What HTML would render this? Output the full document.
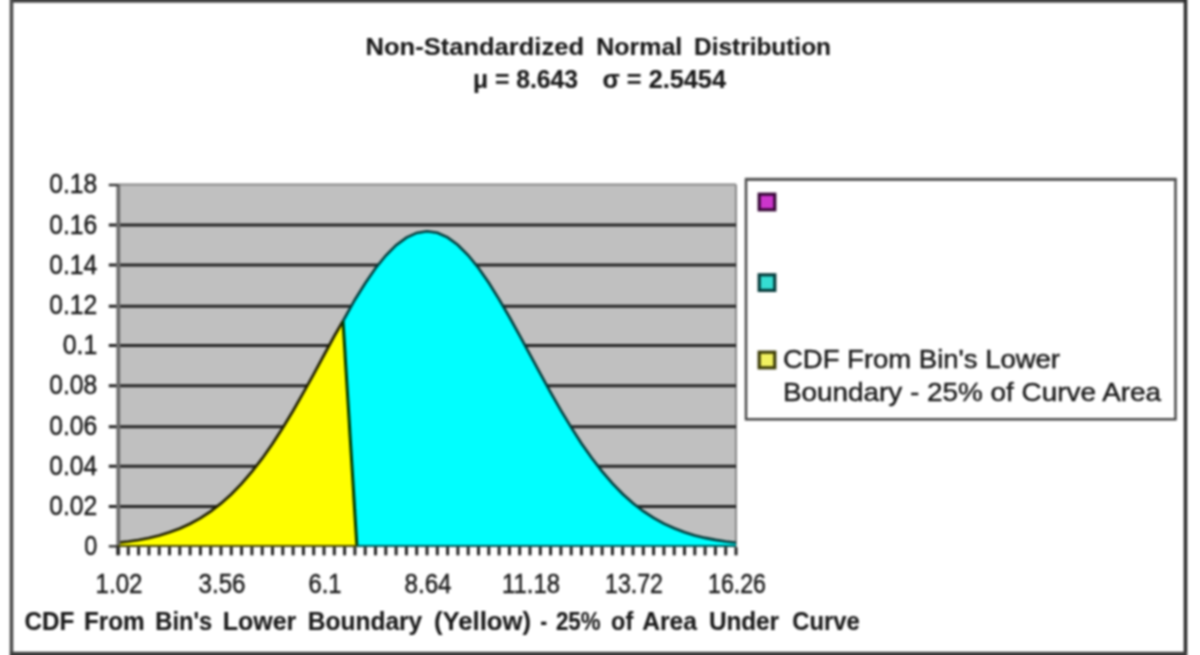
<!DOCTYPE html>
<html><head><meta charset="utf-8"><title>Non-Standardized Normal Distribution</title>
<style>
html,body{margin:0;padding:0;background:#fff;}
body{width:1200px;height:655px;overflow:hidden;}
svg{display:block;}
text{font-family:"Liberation Sans",sans-serif;fill:#1a1a1a;stroke:#1a1a1a;stroke-width:0.45px;filter:blur(0.8px);}
.r{font-size:26.5px;}
.b{font-size:24.5px;font-weight:bold;stroke-width:0.15px;}
</style></head><body>
<svg width="1200" height="655" viewBox="0 0 1200 655">
<rect x="0" y="0" width="1200" height="655" fill="#fff"/>
<g>
<!-- outer frame -->
<g style="filter:blur(0.8px)">
<rect x="10" y="-6" width="1177" height="8.6" fill="#3c3c3c"/>
<rect x="9.7" y="-6" width="3.6" height="670" fill="#4c4c4c"/>
<rect x="1183.7" y="-6" width="3.6" height="670" fill="#2c2c2c"/>
<rect x="10" y="651.8" width="1177" height="10" fill="#3c3c3c"/>
</g>
<!-- title -->
<text y="54.5" class="b"><tspan x="365.5" textLength="218.5" lengthAdjust="spacingAndGlyphs">Non-Standardized</tspan> <tspan x="596.3" textLength="86" lengthAdjust="spacingAndGlyphs">Normal</tspan> <tspan x="694" textLength="137" lengthAdjust="spacingAndGlyphs">Distribution</tspan></text>
<text y="88" class="b" style="font-size:26px"><tspan x="473" textLength="105" lengthAdjust="spacingAndGlyphs">μ = 8.643</tspan> <tspan x="602.5" textLength="123.5" lengthAdjust="spacingAndGlyphs">σ = 2.5454</tspan></text>
<g style="filter:blur(0.8px)">
<!-- plot area -->
<rect x="118.0" y="184.5" width="618.0" height="361.79999999999995" fill="#c0c0c0"/>
<rect x="118.0" y="183.5" width="618.0" height="2" fill="#888"/>
<rect x="735.0" y="184.5" width="2" height="361.79999999999995" fill="#888"/>
<line x1="108.8" x2="736.0" y1="225.0" y2="225.0" stroke="#262626" stroke-width="3"/>
<line x1="108.8" x2="736.0" y1="264.9" y2="264.9" stroke="#262626" stroke-width="3"/>
<line x1="108.8" x2="736.0" y1="306.3" y2="306.3" stroke="#262626" stroke-width="3"/>
<line x1="108.8" x2="736.0" y1="345.4" y2="345.4" stroke="#262626" stroke-width="3"/>
<line x1="108.8" x2="736.0" y1="385.8" y2="385.8" stroke="#262626" stroke-width="3"/>
<line x1="108.8" x2="736.0" y1="426.8" y2="426.8" stroke="#262626" stroke-width="3"/>
<line x1="108.8" x2="736.0" y1="466.2" y2="466.2" stroke="#262626" stroke-width="3"/>
<line x1="108.8" x2="736.0" y1="506.4" y2="506.4" stroke="#262626" stroke-width="3"/>

<path d="M118.0,546.3 L118.0,542.7 128.3,541.5 138.6,540.0 148.9,538.0 159.2,535.5 169.5,532.3 179.8,528.4 190.1,523.7 200.4,518.1 210.7,511.3 221.0,503.4 231.3,494.2 241.6,483.7 251.9,471.7 262.2,458.4 272.5,443.7 282.8,427.8 293.1,410.7 303.4,392.7 313.7,374.1 324.0,355.0 334.3,336.0 343.0,321.0 L356.9,546.3 Z" fill="#ffff00"/>
<path d="M356.9,546.3 L343.0,321.0 354.9,299.7 365.2,283.2 375.5,268.3 385.8,255.5 396.1,245.2 406.4,237.6 416.7,232.9 427.0,231.3 437.3,232.8 447.6,237.4 457.9,245.0 468.2,255.3 478.5,268.0 488.8,282.8 499.1,299.3 509.4,317.0 519.7,335.6 530.0,354.6 540.3,373.6 550.6,392.3 560.9,410.3 571.2,427.4 581.5,443.4 591.8,458.1 602.1,471.4 612.4,483.4 622.7,494.0 633.0,503.2 643.3,511.2 653.6,517.9 663.9,523.6 674.2,528.3 684.5,532.2 694.8,535.4 705.1,537.9 715.4,539.9 725.7,541.5 736.0,542.7 L736.0,546.3 Z" fill="#00ffff"/>
<path d="M118.0,542.7 L128.3,541.5 L138.6,540.0 L148.9,538.0 L159.2,535.5 L169.5,532.3 L179.8,528.4 L190.1,523.7 L200.4,518.1 L210.7,511.3 L221.0,503.4 L231.3,494.2 L241.6,483.7 L251.9,471.7 L262.2,458.4 L272.5,443.7 L282.8,427.8 L293.1,410.7 L303.4,392.7 L313.7,374.1 L324.0,355.0 L334.3,336.0 L343.0,321.0" fill="none" stroke="#1e1e00" stroke-width="2.7"/>
<path d="M343.0,321.0 L354.9,299.7 L365.2,283.2 L375.5,268.3 L385.8,255.5 L396.1,245.2 L406.4,237.6 L416.7,232.9 L427.0,231.3 L437.3,232.8 L447.6,237.4 L457.9,245.0 L468.2,255.3 L478.5,268.0 L488.8,282.8 L499.1,299.3 L509.4,317.0 L519.7,335.6 L530.0,354.6 L540.3,373.6 L550.6,392.3 L560.9,410.3 L571.2,427.4 L581.5,443.4 L591.8,458.1 L602.1,471.4 L612.4,483.4 L622.7,494.0 L633.0,503.2 L643.3,511.2 L653.6,517.9 L663.9,523.6 L674.2,528.3 L684.5,532.2 L694.8,535.4 L705.1,537.9 L715.4,539.9 L725.7,541.5 L736.0,542.7" fill="none" stroke="#003c3c" stroke-width="2.6"/>
<path d="M343.0,321.0 L356.9,546.3" fill="none" stroke="#003a00" stroke-width="3"/>
<!-- axes -->
<rect x="116.4" y="184.0" width="3.8" height="371.0" fill="#6e6e6e"/>
<line x1="108.8" x2="118.0" y1="185.0" y2="185.0" stroke="#333" stroke-width="2.4"/>
<line x1="108.8" x2="118.0" y1="546.3" y2="546.3" stroke="#333" stroke-width="2.4"/>
<line x1="118.0" x2="356.9" y1="546.0" y2="546.0" stroke="#4a4a00" stroke-width="2.2"/>
<line x1="356.9" x2="736.0" y1="546.0" y2="546.0" stroke="#005a5a" stroke-width="2.2"/>
<line x1="118.0" x2="118.0" y1="547.1" y2="555.3" stroke="#1c1c1c" stroke-width="2.9"/>
<line x1="128.3" x2="128.3" y1="547.1" y2="555.3" stroke="#1c1c1c" stroke-width="2.9"/>
<line x1="138.6" x2="138.6" y1="547.1" y2="555.3" stroke="#1c1c1c" stroke-width="2.9"/>
<line x1="148.9" x2="148.9" y1="547.1" y2="555.3" stroke="#1c1c1c" stroke-width="2.9"/>
<line x1="159.2" x2="159.2" y1="547.1" y2="555.3" stroke="#1c1c1c" stroke-width="2.9"/>
<line x1="169.5" x2="169.5" y1="547.1" y2="555.3" stroke="#1c1c1c" stroke-width="2.9"/>
<line x1="179.8" x2="179.8" y1="547.1" y2="555.3" stroke="#1c1c1c" stroke-width="2.9"/>
<line x1="190.1" x2="190.1" y1="547.1" y2="555.3" stroke="#1c1c1c" stroke-width="2.9"/>
<line x1="200.4" x2="200.4" y1="547.1" y2="555.3" stroke="#1c1c1c" stroke-width="2.9"/>
<line x1="210.7" x2="210.7" y1="547.1" y2="555.3" stroke="#1c1c1c" stroke-width="2.9"/>
<line x1="221.0" x2="221.0" y1="547.1" y2="555.3" stroke="#1c1c1c" stroke-width="2.9"/>
<line x1="231.3" x2="231.3" y1="547.1" y2="555.3" stroke="#1c1c1c" stroke-width="2.9"/>
<line x1="241.6" x2="241.6" y1="547.1" y2="555.3" stroke="#1c1c1c" stroke-width="2.9"/>
<line x1="251.9" x2="251.9" y1="547.1" y2="555.3" stroke="#1c1c1c" stroke-width="2.9"/>
<line x1="262.2" x2="262.2" y1="547.1" y2="555.3" stroke="#1c1c1c" stroke-width="2.9"/>
<line x1="272.5" x2="272.5" y1="547.1" y2="555.3" stroke="#1c1c1c" stroke-width="2.9"/>
<line x1="282.8" x2="282.8" y1="547.1" y2="555.3" stroke="#1c1c1c" stroke-width="2.9"/>
<line x1="293.1" x2="293.1" y1="547.1" y2="555.3" stroke="#1c1c1c" stroke-width="2.9"/>
<line x1="303.4" x2="303.4" y1="547.1" y2="555.3" stroke="#1c1c1c" stroke-width="2.9"/>
<line x1="313.7" x2="313.7" y1="547.1" y2="555.3" stroke="#1c1c1c" stroke-width="2.9"/>
<line x1="324.0" x2="324.0" y1="547.1" y2="555.3" stroke="#1c1c1c" stroke-width="2.9"/>
<line x1="334.3" x2="334.3" y1="547.1" y2="555.3" stroke="#1c1c1c" stroke-width="2.9"/>
<line x1="344.6" x2="344.6" y1="547.1" y2="555.3" stroke="#1c1c1c" stroke-width="2.9"/>
<line x1="354.9" x2="354.9" y1="547.1" y2="555.3" stroke="#1c1c1c" stroke-width="2.9"/>
<line x1="365.2" x2="365.2" y1="547.1" y2="555.3" stroke="#1c1c1c" stroke-width="2.9"/>
<line x1="375.5" x2="375.5" y1="547.1" y2="555.3" stroke="#1c1c1c" stroke-width="2.9"/>
<line x1="385.8" x2="385.8" y1="547.1" y2="555.3" stroke="#1c1c1c" stroke-width="2.9"/>
<line x1="396.1" x2="396.1" y1="547.1" y2="555.3" stroke="#1c1c1c" stroke-width="2.9"/>
<line x1="406.4" x2="406.4" y1="547.1" y2="555.3" stroke="#1c1c1c" stroke-width="2.9"/>
<line x1="416.7" x2="416.7" y1="547.1" y2="555.3" stroke="#1c1c1c" stroke-width="2.9"/>
<line x1="427.0" x2="427.0" y1="547.1" y2="555.3" stroke="#1c1c1c" stroke-width="2.9"/>
<line x1="437.3" x2="437.3" y1="547.1" y2="555.3" stroke="#1c1c1c" stroke-width="2.9"/>
<line x1="447.6" x2="447.6" y1="547.1" y2="555.3" stroke="#1c1c1c" stroke-width="2.9"/>
<line x1="457.9" x2="457.9" y1="547.1" y2="555.3" stroke="#1c1c1c" stroke-width="2.9"/>
<line x1="468.2" x2="468.2" y1="547.1" y2="555.3" stroke="#1c1c1c" stroke-width="2.9"/>
<line x1="478.5" x2="478.5" y1="547.1" y2="555.3" stroke="#1c1c1c" stroke-width="2.9"/>
<line x1="488.8" x2="488.8" y1="547.1" y2="555.3" stroke="#1c1c1c" stroke-width="2.9"/>
<line x1="499.1" x2="499.1" y1="547.1" y2="555.3" stroke="#1c1c1c" stroke-width="2.9"/>
<line x1="509.4" x2="509.4" y1="547.1" y2="555.3" stroke="#1c1c1c" stroke-width="2.9"/>
<line x1="519.7" x2="519.7" y1="547.1" y2="555.3" stroke="#1c1c1c" stroke-width="2.9"/>
<line x1="530.0" x2="530.0" y1="547.1" y2="555.3" stroke="#1c1c1c" stroke-width="2.9"/>
<line x1="540.3" x2="540.3" y1="547.1" y2="555.3" stroke="#1c1c1c" stroke-width="2.9"/>
<line x1="550.6" x2="550.6" y1="547.1" y2="555.3" stroke="#1c1c1c" stroke-width="2.9"/>
<line x1="560.9" x2="560.9" y1="547.1" y2="555.3" stroke="#1c1c1c" stroke-width="2.9"/>
<line x1="571.2" x2="571.2" y1="547.1" y2="555.3" stroke="#1c1c1c" stroke-width="2.9"/>
<line x1="581.5" x2="581.5" y1="547.1" y2="555.3" stroke="#1c1c1c" stroke-width="2.9"/>
<line x1="591.8" x2="591.8" y1="547.1" y2="555.3" stroke="#1c1c1c" stroke-width="2.9"/>
<line x1="602.1" x2="602.1" y1="547.1" y2="555.3" stroke="#1c1c1c" stroke-width="2.9"/>
<line x1="612.4" x2="612.4" y1="547.1" y2="555.3" stroke="#1c1c1c" stroke-width="2.9"/>
<line x1="622.7" x2="622.7" y1="547.1" y2="555.3" stroke="#1c1c1c" stroke-width="2.9"/>
<line x1="633.0" x2="633.0" y1="547.1" y2="555.3" stroke="#1c1c1c" stroke-width="2.9"/>
<line x1="643.3" x2="643.3" y1="547.1" y2="555.3" stroke="#1c1c1c" stroke-width="2.9"/>
<line x1="653.6" x2="653.6" y1="547.1" y2="555.3" stroke="#1c1c1c" stroke-width="2.9"/>
<line x1="663.9" x2="663.9" y1="547.1" y2="555.3" stroke="#1c1c1c" stroke-width="2.9"/>
<line x1="674.2" x2="674.2" y1="547.1" y2="555.3" stroke="#1c1c1c" stroke-width="2.9"/>
<line x1="684.5" x2="684.5" y1="547.1" y2="555.3" stroke="#1c1c1c" stroke-width="2.9"/>
<line x1="694.8" x2="694.8" y1="547.1" y2="555.3" stroke="#1c1c1c" stroke-width="2.9"/>
<line x1="705.1" x2="705.1" y1="547.1" y2="555.3" stroke="#1c1c1c" stroke-width="2.9"/>
<line x1="715.4" x2="715.4" y1="547.1" y2="555.3" stroke="#1c1c1c" stroke-width="2.9"/>
<line x1="725.7" x2="725.7" y1="547.1" y2="555.3" stroke="#1c1c1c" stroke-width="2.9"/>
<line x1="736.0" x2="736.0" y1="547.1" y2="555.3" stroke="#1c1c1c" stroke-width="2.9"/>

</g>
<text x="97.2" y="193.3" text-anchor="end" class="r" style="font-size:27.5px" textLength="48.0" lengthAdjust="spacingAndGlyphs">0.18</text>
<text x="97.2" y="233.5" text-anchor="end" class="r" style="font-size:27.5px" textLength="48.0" lengthAdjust="spacingAndGlyphs">0.16</text>
<text x="97.2" y="273.7" text-anchor="end" class="r" style="font-size:27.5px" textLength="48.0" lengthAdjust="spacingAndGlyphs">0.14</text>
<text x="97.2" y="313.9" text-anchor="end" class="r" style="font-size:27.5px" textLength="48.0" lengthAdjust="spacingAndGlyphs">0.12</text>
<text x="97.2" y="354.1" text-anchor="end" class="r" style="font-size:27.5px" textLength="34.5" lengthAdjust="spacingAndGlyphs">0.1</text>
<text x="97.2" y="394.3" text-anchor="end" class="r" style="font-size:27.5px" textLength="48.0" lengthAdjust="spacingAndGlyphs">0.08</text>
<text x="97.2" y="434.5" text-anchor="end" class="r" style="font-size:27.5px" textLength="48.0" lengthAdjust="spacingAndGlyphs">0.06</text>
<text x="97.2" y="474.7" text-anchor="end" class="r" style="font-size:27.5px" textLength="48.0" lengthAdjust="spacingAndGlyphs">0.04</text>
<text x="97.2" y="514.9" text-anchor="end" class="r" style="font-size:27.5px" textLength="48.0" lengthAdjust="spacingAndGlyphs">0.02</text>
<text x="97.2" y="555.1" text-anchor="end" class="r" style="font-size:27.5px" textLength="13.0" lengthAdjust="spacingAndGlyphs">0</text>

<text x="119.0" y="592.6" text-anchor="middle" class="r" style="font-size:27px" textLength="47.0" lengthAdjust="spacingAndGlyphs">1.02</text>
<text x="222.0" y="592.6" text-anchor="middle" class="r" style="font-size:27px" textLength="47.0" lengthAdjust="spacingAndGlyphs">3.56</text>
<text x="325.0" y="592.6" text-anchor="middle" class="r" style="font-size:27px" textLength="33.0" lengthAdjust="spacingAndGlyphs">6.1</text>
<text x="428.0" y="592.6" text-anchor="middle" class="r" style="font-size:27px" textLength="47.0" lengthAdjust="spacingAndGlyphs">8.64</text>
<text x="531.0" y="592.6" text-anchor="middle" class="r" style="font-size:27px" textLength="58.0" lengthAdjust="spacingAndGlyphs">11.18</text>
<text x="634.0" y="592.6" text-anchor="middle" class="r" style="font-size:27px" textLength="58.0" lengthAdjust="spacingAndGlyphs">13.72</text>
<text x="737.0" y="592.6" text-anchor="middle" class="r" style="font-size:27px" textLength="58.0" lengthAdjust="spacingAndGlyphs">16.26</text>

<!-- legend -->
<g style="filter:blur(0.8px)">
<rect x="746" y="179.3" width="429.5" height="240" fill="#fff" stroke="#484848" stroke-width="2.5"/>
<rect x="745" y="177.8" width="431.5" height="3" fill="#555"/>
<rect x="759.2" y="194.2" width="15.6" height="15.6" fill="#cc35cc" stroke="#3a083a" stroke-width="3.2"/>
<rect x="759.2" y="274.8" width="15.6" height="15.6" fill="#35ddd2" stroke="#063e3e" stroke-width="3.2"/>
<rect x="759.2" y="352.2" width="15.6" height="15.6" fill="#f0f060" stroke="#3e3e08" stroke-width="3.2"/>
</g>
<text x="783" y="368" class="r" style="font-size:26px" textLength="277" lengthAdjust="spacingAndGlyphs">CDF From Bin's Lower</text>
<text x="783" y="401" class="r" style="font-size:26px" textLength="378" lengthAdjust="spacingAndGlyphs">Boundary - 25% of Curve Area</text>
<!-- caption -->
<text y="629.5" class="b" style="font-size:25.5px"><tspan x="24.5" textLength="49.7" lengthAdjust="spacingAndGlyphs">CDF</tspan> <tspan x="84.0" textLength="60.7" lengthAdjust="spacingAndGlyphs">From</tspan> <tspan x="155.3" textLength="56.9" lengthAdjust="spacingAndGlyphs">Bin's</tspan> <tspan x="222.8" textLength="73.4" lengthAdjust="spacingAndGlyphs">Lower</tspan> <tspan x="307.8" textLength="114.4" lengthAdjust="spacingAndGlyphs">Boundary</tspan> <tspan x="434.0" textLength="97.0" lengthAdjust="spacingAndGlyphs">(Yellow)</tspan> <tspan x="540.3" textLength="6.9" lengthAdjust="spacingAndGlyphs">-</tspan> <tspan x="555.9" textLength="44.7" lengthAdjust="spacingAndGlyphs">25%</tspan> <tspan x="611.1" textLength="22.1" lengthAdjust="spacingAndGlyphs">of</tspan> <tspan x="642.3" textLength="54.6" lengthAdjust="spacingAndGlyphs">Area</tspan> <tspan x="708.9" textLength="70.2" lengthAdjust="spacingAndGlyphs">Under</tspan> <tspan x="792.3" textLength="67.4" lengthAdjust="spacingAndGlyphs">Curve</tspan></text>
</g>
</svg>
</body></html>
